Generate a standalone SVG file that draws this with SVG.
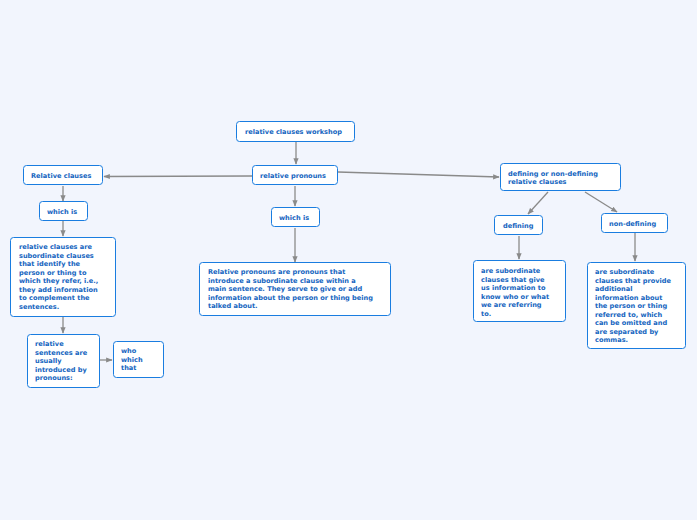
<svg xmlns="http://www.w3.org/2000/svg" width="697" height="520" viewBox="0 0 697 520">
<style>
rect.n{fill:#fff;stroke:#1a7de0;stroke-width:1}
text{font-family:"DejaVu Sans",Verdana,sans-serif;font-weight:bold;font-size:6.6px;fill:#1565c0}
.c path{stroke:#8a8a8a;stroke-width:1.3;fill:none;marker-end:url(#a)}
</style>
<defs><marker id="a" viewBox="0 0 10 10" refX="9" refY="5" markerWidth="5" markerHeight="5" orient="auto"><path d="M0,1L10,5L0,9z" fill="#8a8a8a"/></marker></defs>
<rect width="697" height="520" fill="#f2f5fd"/>
<g class="c">
<path d="M296,142V164"/>
<path d="M252,176L104,176.5"/>
<path d="M338,172L499,177"/>
<path d="M63,186V201"/>
<path d="M63,221V236"/>
<path d="M63,317V333"/>
<path d="M100,360H112"/>
<path d="M295,186V206"/>
<path d="M295,228V262"/>
<path d="M548,192L528,214"/>
<path d="M585,192L617,212"/>
<path d="M519,236V259"/>
<path d="M635,233V261"/>
</g>
<g id="top"><rect class="n" x="236.500" y="121.500" width="118" height="20" rx="3"/><text x="245" y="134">relative clauses workshop</text></g>
<g id="rp"><rect class="n" x="252.500" y="165.500" width="85" height="19" rx="3"/><text x="260" y="178">relative pronouns</text></g>
<g id="rc"><rect class="n" x="23.500" y="165.500" width="79" height="19" rx="3"/><text x="31" y="178">Relative clauses</text></g>
<g id="wi1"><rect class="n" x="39.500" y="201.500" width="48" height="19" rx="3"/><text x="47" y="214">which is</text></g>
<g id="def1"><rect class="n" x="10.500" y="237.500" width="105" height="79" rx="3"/><text x="19" y="249"><tspan x="19">relative clauses are</tspan><tspan x="19" dy="8.5">subordinate clauses</tspan><tspan x="19" dy="8.5">that identify the</tspan><tspan x="19" dy="8.5">person or thing to</tspan><tspan x="19" dy="8.5">which they refer, i.e.,</tspan><tspan x="19" dy="8.5">they add information</tspan><tspan x="19" dy="8.5">to complement the</tspan><tspan x="19" dy="8.5">sentences.</tspan></text></g>
<g id="rs"><rect class="n" x="27.500" y="334.500" width="72" height="53" rx="3"/><text x="35" y="346"><tspan x="35">relative</tspan><tspan x="35" dy="8.5">sentences are</tspan><tspan x="35" dy="8.5">usually</tspan><tspan x="35" dy="8.5">introduced by</tspan><tspan x="35" dy="8.5">pronouns:</tspan></text></g>
<g id="who"><rect class="n" x="113.500" y="341.500" width="50" height="36" rx="3"/><text x="121" y="353"><tspan x="121">who</tspan><tspan x="121" dy="8.5">which</tspan><tspan x="121" dy="8.5">that</tspan></text></g>
<g id="wi2"><rect class="n" x="271.500" y="207.500" width="48" height="19" rx="3"/><text x="279" y="220">which is</text></g>
<g id="rpdef"><rect class="n" x="199.500" y="262.500" width="191" height="53" rx="3"/><text x="208" y="274"><tspan x="208">Relative pronouns are pronouns that</tspan><tspan x="208" dy="8.5">introduce a subordinate clause within a</tspan><tspan x="208" dy="8.5">main sentence. They serve to give or add</tspan><tspan x="208" dy="8.5">information about the person or thing being</tspan><tspan x="208" dy="8.5">talked about.</tspan></text></g>
<g id="dnd"><rect class="n" x="500.500" y="163.500" width="120" height="27" rx="3"/><text x="508" y="176"><tspan x="508">defining or non-defining</tspan><tspan x="508" dy="8">relative clauses</tspan></text></g>
<g id="def"><rect class="n" x="494.500" y="215.500" width="48" height="19" rx="3"/><text x="503" y="228">defining</text></g>
<g id="ndef"><rect class="n" x="601.500" y="213.500" width="66" height="19" rx="3"/><text x="609" y="226">non-defining</text></g>
<g id="defd"><rect class="n" x="473.500" y="260.500" width="92" height="61" rx="3"/><text x="481" y="273"><tspan x="481">are subordinate</tspan><tspan x="481" dy="8.5">clauses that give</tspan><tspan x="481" dy="8.5">us information to</tspan><tspan x="481" dy="8.5">know who or what</tspan><tspan x="481" dy="8.5">we are referring</tspan><tspan x="481" dy="8.5">to.</tspan></text></g>
<g id="ndefd"><rect class="n" x="587.500" y="262.500" width="98" height="86" rx="3"/><text x="595" y="274"><tspan x="595">are subordinate</tspan><tspan x="595" dy="8.5">clauses that provide</tspan><tspan x="595" dy="8.5">additional</tspan><tspan x="595" dy="8.5">information about</tspan><tspan x="595" dy="8.5">the person or thing</tspan><tspan x="595" dy="8.5">referred to, which</tspan><tspan x="595" dy="8.5">can be omitted and</tspan><tspan x="595" dy="8.5">are separated by</tspan><tspan x="595" dy="8.5">commas.</tspan></text></g>
</svg>
